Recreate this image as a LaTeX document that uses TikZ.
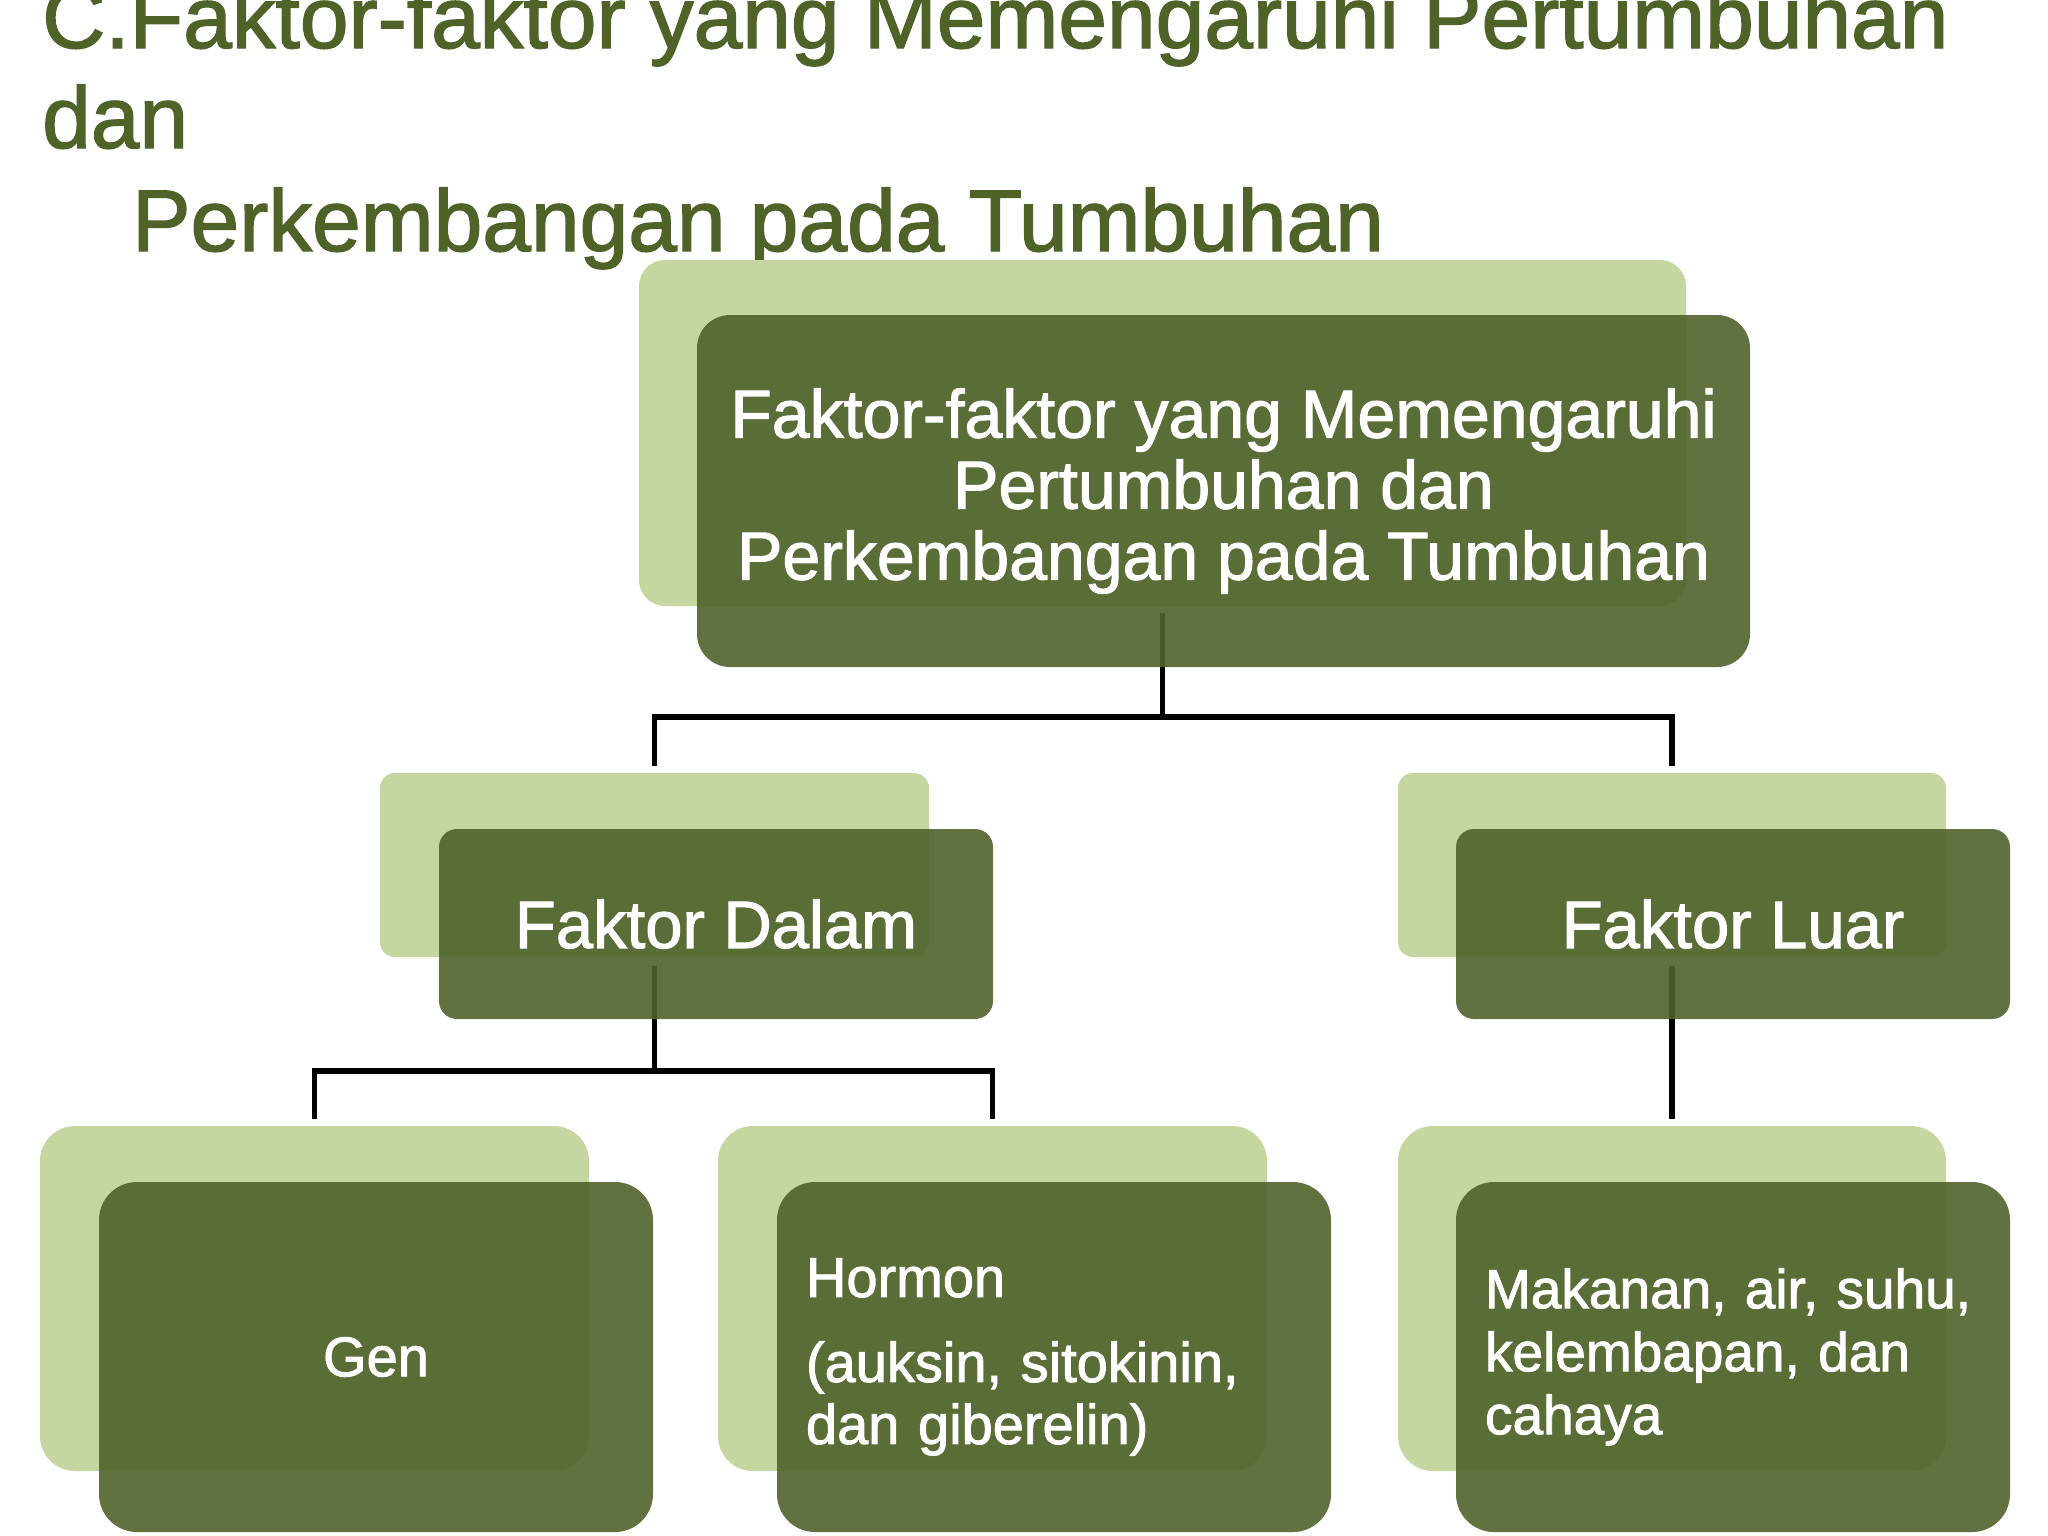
\documentclass[tikz,border=0pt]{standalone}
\usepackage{fontspec}
\setmainfont{Liberation Sans}[FakeBold=1.6]
\definecolor{lightg}{HTML}{C6D6A0}
\definecolor{darkg}{HTML}{50622B}
\definecolor{titleg}{HTML}{4F6228}
\begin{document}
\begin{tikzpicture}[x=1pt,y=-1pt,
  lightbox/.style={fill=lightg, draw=none, inner sep=0pt},
  darkbox/.style={fill=darkg, fill opacity=0.9, text opacity=1, draw=none, inner sep=0pt, text=white},
  titletext/.style={text=titleg, inner sep=0pt, anchor=base west, font=\fontsize{87.5}{100}\selectfont},
  conn/.style={draw=black, line width=5.5pt}]
\useasboundingbox (0,0) rectangle (2048,1535);
\clip (0,0) rectangle (2048,1535);
\fill[white] (0,0) rectangle (2048,1535);

% title
\node[titletext] (t1) at (42,48) {C.Faktor-faktor yang Memengaruhi Pertumbuhan};
\node[titletext] (t2) at (42,148) {dan};
\node[titletext] (t3) at (132,251) {Perkembangan pada Tumbuhan};

% light (back) boxes
\node[lightbox, rounded corners=26pt, minimum width=1047pt, minimum height=346pt] (tl) at (1162.5,433) {};
\node[lightbox, rounded corners=15pt, minimum width=549pt, minimum height=184pt] (ml) at (654.5,865) {};
\node[lightbox, rounded corners=15pt, minimum width=548pt, minimum height=184pt] (mr) at (1672,865) {};
\node[lightbox, rounded corners=35pt, minimum width=549pt, minimum height=345pt] (gl) at (314.5,1298.5) {};
\node[lightbox, rounded corners=35pt, minimum width=549pt, minimum height=345pt] (hl) at (992.5,1298.5) {};
\node[lightbox, rounded corners=35pt, minimum width=548pt, minimum height=345pt] (kl) at (1672,1298.5) {};

% connectors
\coordinate (j1) at (1162.5,717);
\coordinate (j2) at (654.5,1071);
\draw[conn, shorten <=7pt] (tl.south) -- (j1);
\draw[conn, shorten >=7pt] (j1) -| (ml.north);
\draw[conn, shorten >=7pt] (j1) -| (mr.north);
\draw[conn, shorten <=9pt] (ml.south) -- (j2);
\draw[conn, shorten >=7pt] (j2) -| (gl.north);
\draw[conn, shorten >=7pt] (j2) -| (hl.north);
\draw[conn, shorten <=9pt, shorten >=7pt] (mr.south) -- (kl.north);

% dark (front) boxes
\node[darkbox, rounded corners=33pt, minimum width=1053pt, minimum height=352pt, align=center,
  font=\fontsize{68}{71}\selectfont] (td) at (1223.5,491)
  {Faktor-faktor yang Memengaruhi\\Pertumbuhan dan\\Perkembangan pada Tumbuhan};
\node[darkbox, rounded corners=18pt, minimum width=554pt, minimum height=190pt,
  font=\fontsize{67}{70}\selectfont] (md) at (716,924) {Faktor Dalam};
\node[darkbox, rounded corners=18pt, minimum width=554pt, minimum height=190pt,
  font=\fontsize{67}{70}\selectfont] (me) at (1733,924) {Faktor Luar};
\node[darkbox, rounded corners=38pt, minimum width=554pt, minimum height=350pt,
  font=\fontsize{56}{62}\selectfont] (gd) at (376,1357) {Gen};
\node[darkbox, rounded corners=38pt, minimum height=350pt, inner xsep=29pt, text width=496pt,
  align=left, font=\fontsize{56}{62}\selectfont] (hd) at (1054,1357)
  {Hormon\\[23pt](auksin, sitokinin,\\dan giberelin)};
\node[darkbox, rounded corners=38pt, minimum height=350pt, inner xsep=29pt, text width=496pt,
  align=left, font=\fontsize{55}{63}\selectfont] (kd) at (1733,1357)
  {Makanan, air, suhu,\\kelembapan, dan\\cahaya};
\end{tikzpicture}
\end{document}
